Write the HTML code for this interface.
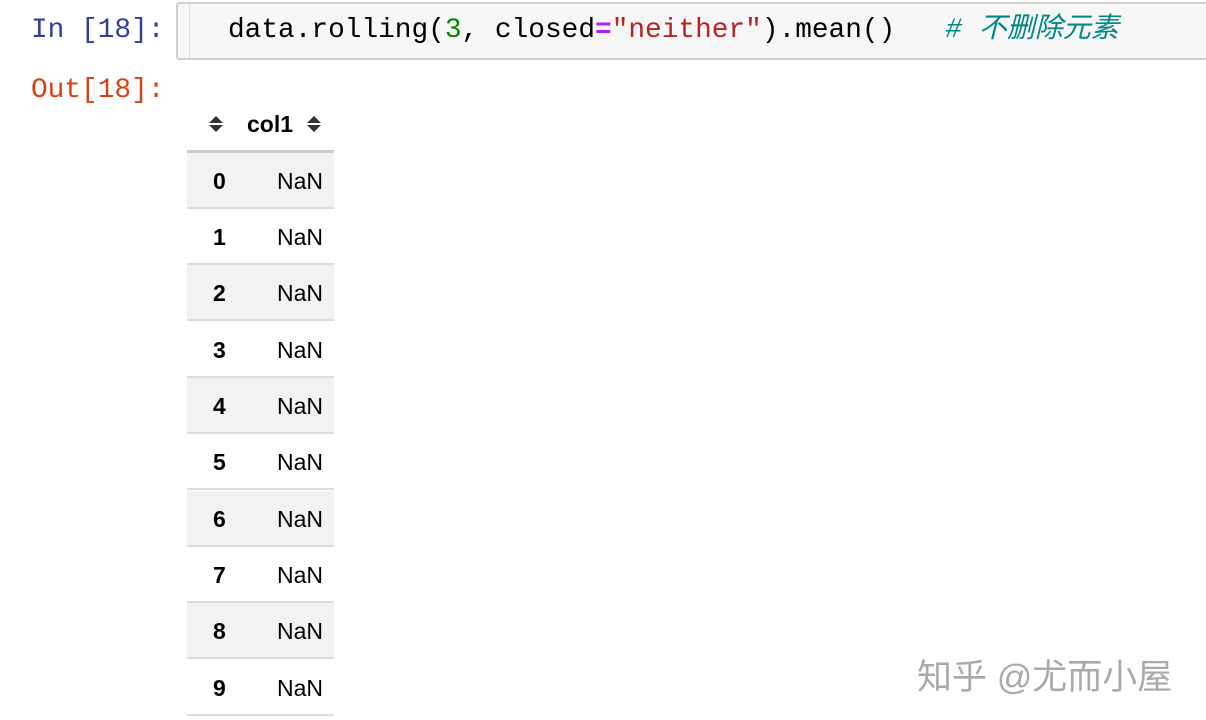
<!DOCTYPE html>
<html><head><meta charset="utf-8"><style>
body{margin:0;width:1206px;height:720px;background:#fff;overflow:hidden;position:relative;font-family:"Liberation Sans",sans-serif}
.p{position:absolute;font-family:"Liberation Mono",monospace;font-size:27.8px;line-height:30px;white-space:pre}
.cell{position:absolute;left:176px;top:2px;width:1040px;height:58px;border:2px solid #d0d0d0;border-radius:3px;background:#f7f7f7;box-sizing:border-box}
.div{position:absolute;left:189px;top:4px;width:1px;height:54px;background:#ddd}
.row{position:absolute;left:187px;width:147px;height:56px;border-bottom:2px solid #ddd;box-sizing:border-box;font-size:23px;color:#000}
.row b{position:absolute;left:26px;top:15px}
.row span{position:absolute;left:90px;top:15px}
.g{background:#f2f2f2}
.s{position:absolute;width:0;height:0;border-left:7px solid transparent;border-right:7px solid transparent}
.u{border-bottom:7px solid #333}.d{border-top:7px solid #333}
</style></head><body>
<div class="p" style="left:31px;top:16px;color:#303f9f">In [18]:</div>
<div class="cell"></div><div class="div"></div>
<div class="p" style="left:228px;top:16px;color:#000">data.rolling(<span style="color:#080">3</span>, closed<span style="color:#a2f;font-weight:bold">=</span><span style="color:#b22">"neither"</span>).mean()   <span style="color:#088;font-style:italic;font-family:'Liberation Mono','Noto Sans CJK SC',monospace"># <span style="font-size:28px">不删除元素</span></span></div>
<div class="p" style="left:31px;top:76px;color:#d84315">Out[18]:</div>
<div class="s u" style="left:209px;top:116px"></div><div class="s d" style="left:209px;top:125px"></div>
<div style="position:absolute;left:247px;top:111px;font-size:23px;font-weight:bold">col1</div>
<div class="s u" style="left:307px;top:116px"></div><div class="s d" style="left:307px;top:125px"></div>
<div style="position:absolute;left:187px;top:150px;width:147px;height:3px;background:#ccc"></div>
<div class="row g" style="top:153px"><b>0</b><span>NaN</span></div>
<div class="row" style="top:209px"><b>1</b><span>NaN</span></div>
<div class="row g" style="top:265px"><b>2</b><span>NaN</span></div>
<div class="row" style="top:322px"><b>3</b><span>NaN</span></div>
<div class="row g" style="top:378px"><b>4</b><span>NaN</span></div>
<div class="row" style="top:434px"><b>5</b><span>NaN</span></div>
<div class="row g" style="top:491px"><b>6</b><span>NaN</span></div>
<div class="row" style="top:547px"><b>7</b><span>NaN</span></div>
<div class="row g" style="top:603px"><b>8</b><span>NaN</span></div>
<div class="row" style="top:660px"><b>9</b><span>NaN</span></div>
<div style="position:absolute;left:917px;top:649px;font-size:35px;color:#aaa;font-family:'Liberation Sans','Noto Sans CJK SC',sans-serif;white-space:nowrap">知乎 @尤而小屋</div>
</body></html>
